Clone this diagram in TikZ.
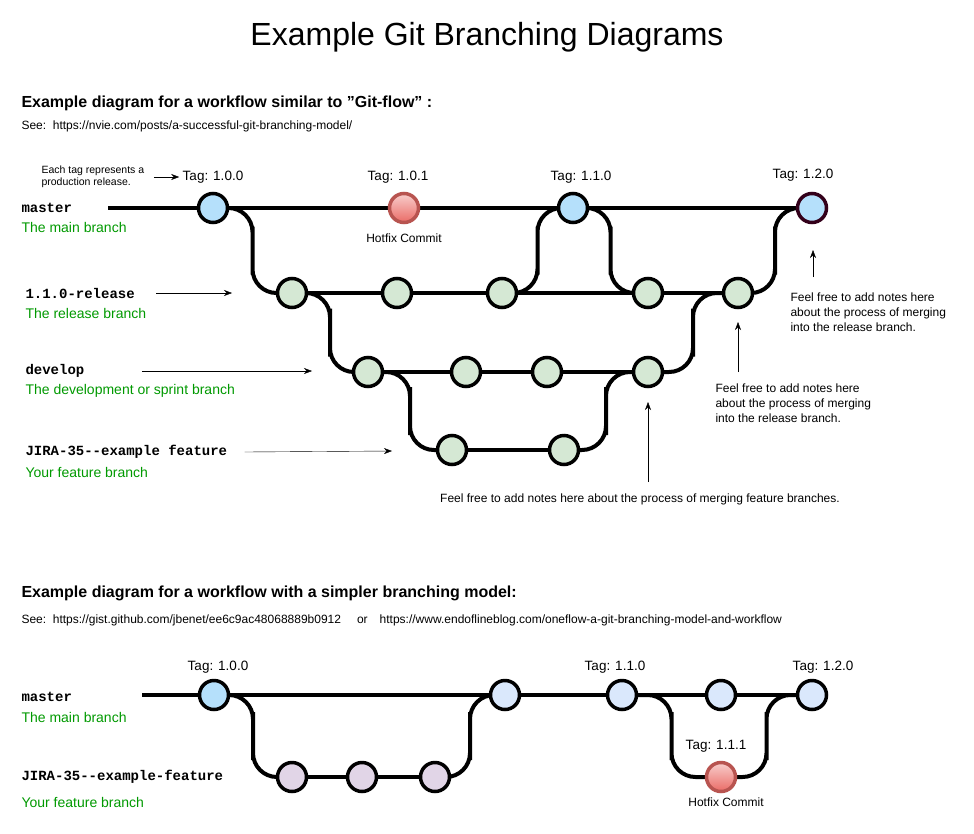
\documentclass[tikz,border=0pt]{standalone}
\usepackage{fontspec}
\setmainfont{Liberation Sans}
\newfontfamily\codefont{Liberation Mono}
\usepackage{xcolor}
\usetikzlibrary{arrows.meta,calc,backgrounds}

\definecolor{tagblue}{HTML}{B5E0FB}
\definecolor{paleblue}{HTML}{DAE8FC}
\definecolor{relgreen}{HTML}{D5E8D4}
\definecolor{featpurple}{HTML}{E1D5E7}
\definecolor{fixred}{HTML}{EA6B66}
\definecolor{fixlight}{HTML}{F8CECC}
\definecolor{fixborder}{HTML}{B85450}
\definecolor{labelgreen}{HTML}{009900}
\definecolor{lastborder}{HTML}{33001A}

\begin{document}
\begin{tikzpicture}[
    x=1pt, y=-1pt,
    commit/.style={circle, draw=black, line width=3.5pt, minimum size=29pt, inner sep=0pt},
    tagc/.style={commit, fill=tagblue},
    relc/.style={commit, fill=relgreen},
    plainc/.style={commit, fill=paleblue},
    featc/.style={commit, fill=featpurple},
    fixc/.style={commit, draw=fixborder, top color=fixlight, bottom color=fixred},
    branch/.style={line width=4pt, black},
    fork/.style={branch, rounded corners=24pt},
    pointer/.style={-{Stealth[length=8pt,width=6pt]}, thin},
    brname/.style={anchor=west, font=\codefont\bfseries\fontsize{14}{16}\selectfont},
    desc/.style={anchor=west, text=labelgreen, font=\fontsize{14}{16}\selectfont},
    tagtext/.style={font=\fontsize{13.5}{15}\selectfont},
    note/.style={font=\fontsize{12}{15}\selectfont, align=left}
]
    \useasboundingbox (0,0) rectangle (974,833);

    % Headings
    \node[font=\fontsize{32}{36}\selectfont] (title) at (487,37) {Example Git Branching Diagrams};
    \node[anchor=west, font=\bfseries\fontsize{16}{19}\selectfont] (head1) at (18,103) {Example diagram for a workflow similar to \symbol{34}Git-flow\symbol{34} :};
    \node[anchor=west, note] (see1) at (18,126) {See:\ \ https://nvie.com/posts/a-successful-git-branching-model/};
    \node[anchor=west, font=\bfseries\fontsize{16}{19}\selectfont] (head2) at (18,593) {Example diagram for a workflow with a simpler branching model:};
    \node[anchor=west, note] (see2) at (18,620) {See:\ \ https://gist.github.com/jbenet/ee6c9ac48068889b0912\hspace{16pt}or\hspace{12pt}https://www.endoflineblog.com/oneflow-a-git-branching-model-and-workflow};

    % Git-flow: branch labels
    \node[brname] (lmaster) at (18,208) {master};
    \node[desc] (dmaster) at (18,227) {The main branch};
    \node[brname] (lrel) at (22,293) {1.1.0-release};
    \node[desc] (drel) at (22,313) {The release branch};
    \node[brname] (ldev) at (22,371) {develop};
    \node[desc] (ddev) at (22,391) {The development or sprint branch};
    \node[brname] (lfeat) at (22,452) {JIRA-35--example feature};
    \node[desc] (dfeat) at (22,472) {Your feature branch};

    % Git-flow: commits
    \coordinate (mstart) at (108,208);
    \node[tagc] (m1) at (213,208) {};
    \node[fixc] (m2) at (404,208) {};
    \node[tagc] (m3) at (573,208) {};
    \node[tagc, draw=lastborder] (m4) at (812,208) {};
    \node[relc] (r1) at (292,293) {};
    \node[relc] (r2) at (397,293) {};
    \node[relc] (r3) at (502,293) {};
    \node[relc] (r4) at (648,293) {};
    \node[relc] (r5) at (738,293) {};
    \node[relc] (d1) at (368,372) {};
    \node[relc] (d2) at (466,372) {};
    \node[relc] (d3) at (547,372) {};
    \node[relc] (d4) at (648,372) {};
    \node[relc] (f1) at (452,450) {};
    \node[relc] (f2) at (564,450) {};

    \begin{scope}[on background layer]
        \draw[branch] (mstart) -- (m4.center);
        \draw[branch] (r1.center) -- (r5.center);
        \draw[branch] (d1.center) -- (d4.center);
        \draw[branch] (f1.center) -- (f2.center);
        \draw[fork] (m1.center) -| ($(m1)!.5!(r1)$) |- (r1.center);
        \draw[fork] (r1.center) -| ($(r1)!.5!(d1)$) |- (d1.center);
        \draw[fork] (d1.center) -| ($(d1)!.5!(f1)$) |- (f1.center);
        \draw[fork] (f2.center) -| ($(f2)!.5!(d4)$) |- (d4.center);
        \draw[fork] (r3.center) -| ($(r3)!.5!(m3)$) |- (m3.center);
        \draw[fork] (m3.center) -| ($(m3)!.5!(r4)$) |- (r4.center);
        \draw[fork] (d4.center) -| ($(d4)!.5!(r5)$) |- (r5.center);
        \draw[fork] (r5.center) -| ($(r5)!.5!(m4)$) |- (m4.center);
    \end{scope}

    % Git-flow: tags and notes
    \node[tagtext] (t100) at (213,177) {Tag: 1.0.0};
    \node[tagtext] (t101) at (398,177) {Tag: 1.0.1};
    \node[tagtext] (t110) at (581,177) {Tag: 1.1.0};
    \node[tagtext] (t120) at (803,175) {Tag: 1.2.0};
    \node[note] (hotfix) at (404,238) {Hotfix Commit};
    \node[note, anchor=west, font=\fontsize{10.5}{12.5}\selectfont] (tagnote) at (38,177) {Each tag represents a\\production release.};
    \draw[pointer] (tagnote.east) ++(6,0) -- (t100.west);
    \draw[pointer] (lrel.east) ++(18,0) -- (232,293);
    \draw[pointer] (ldev.east) ++(54,0) -- (312,371);
    \draw[pointer] (lfeat.east) ++(14,0) -- (392,451);

    \node[note, anchor=north west] (note1) at (787,289) {Feel free to add notes here\\about the process of merging\\into the release branch.};
    \node[note, anchor=north west] (note2) at (712,380) {Feel free to add notes here\\about the process of merging\\into the release branch.};
    \node[note] (note3) at (640,499) {Feel free to add notes here about the process of merging feature branches.};
    \draw[pointer] (813,277) -- (813,250);
    \draw[pointer] (738,372) -- (738,322);
    \draw[pointer] (648,482) -- (648,402);

    % Simpler model: labels
    \node[brname] (lmaster2) at (18,697) {master};
    \node[desc] (dmaster2) at (18,717) {The main branch};
    \node[brname] (lfeat2) at (18,777) {JIRA-35--example-feature};
    \node[desc] (dfeat2) at (18,802) {Your feature branch};

    % Simpler model: commits
    \coordinate (sstart) at (142,695);
    \node[tagc] (s1) at (214,695) {};
    \node[plainc] (s2) at (505,695) {};
    \node[plainc] (s3) at (622,695) {};
    \node[plainc] (s4) at (721,695) {};
    \node[plainc] (s5) at (812,695) {};
    \node[featc] (p1) at (292,777) {};
    \node[featc] (p2) at (362,777) {};
    \node[featc] (p3) at (435,777) {};
    \node[fixc] (h1) at (721,777) {};

    \begin{scope}[on background layer]
        \draw[branch] (sstart) -- (s5.center);
        \draw[branch] (p1.center) -- (p3.center);
        \draw[fork] (s1.center) -| ($(s1)!.5!(p1)$) |- (p1.center);
        \draw[fork] (p3.center) -| ($(p3)!.5!(s2)$) |- (s2.center);
        \draw[fork] (s3.center) -| ($(s3)!.5!(h1)$) |- (h1.center);
        \draw[fork] (h1.center) -| ($(h1)!.5!(s5)$) |- (s5.center);
    \end{scope}

    \node[tagtext] (u100) at (218,667) {Tag: 1.0.0};
    \node[tagtext] (u110) at (615,667) {Tag: 1.1.0};
    \node[tagtext] (u120) at (823,667) {Tag: 1.2.0};
    \node[tagtext] (u111) at (716,746) {Tag: 1.1.1};
    \node[note] (hotfix2) at (726,802) {Hotfix Commit};
\end{tikzpicture}
\end{document}
